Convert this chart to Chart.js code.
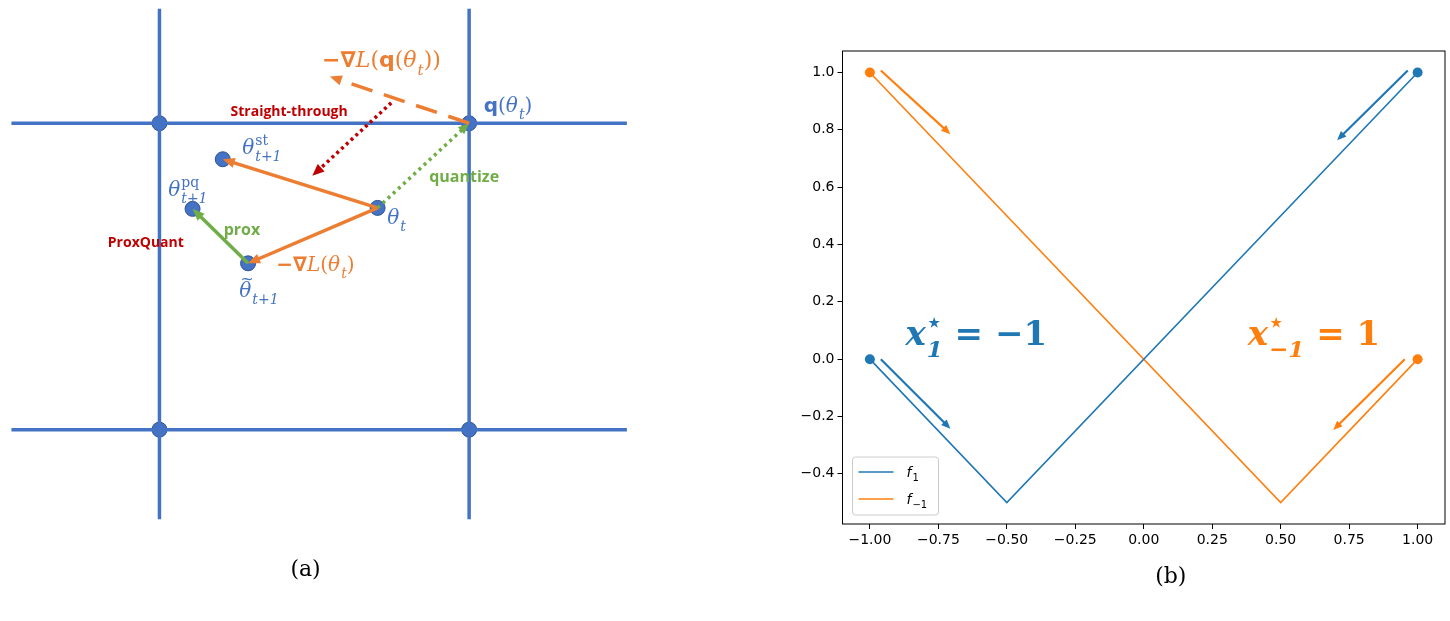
<!DOCTYPE html>
<html><head><meta charset="utf-8">
<script src="https://cdn.jsdelivr.net/npm/chart.js@4"></script>
<style>body{margin:0;width:1450px;height:621px;background:#fff;overflow:hidden;position:relative}
canvas{position:absolute;top:0}
</style></head><body>
<canvas id="a" style="left:0px" width="650" height="621"></canvas>
<canvas id="b" style="left:780px" width="670" height="621"></canvas>
<script>
// ---- Panel (b) data ----
const xTicks = [-1.0,-0.75,-0.5,-0.25,0,0.25,0.5,0.75,1.0];
const yTicks = [-0.4,-0.2,0,0.2,0.4,0.6,0.8,1.0];
const f1X = [-1,-0.5,1];
const f1Y = [0,-0.5,1];
const fm1X = [-1,0.5,1];
const fm1Y = [1,-0.5,0];
const startBlue = [[-1,0],[1,1]];
const startOrange = [[-1,1],[1,0]];
const arrowsBlue = [[0.964,1.007,0.706,0.764],[-0.96,0.0,-0.706,-0.243]];
const arrowsOrange = [[-0.96,1.007,-0.706,0.785],[0.953,0.0,0.692,-0.247]];

// ---- Panel (a) diagram data (diagram units) ----
const gridV = [155,473];
const gridH = [118,433];
const gridNodes = [[155,118],[473,118],[155,433],[473,433]];
const pts = {t:[379,205], st:[220,155], pq:[189,206], tl:[246,262], q:[473,118]};

const BLUE='#4472C4', OR='#ED7D31', GR='#70AD47', RED='#C00000';

function arrow(ctx,x1,y1,x2,y2,color,w,dash,head){
  const ang=Math.atan2(y2-y1,x2-x1);
  ctx.save();ctx.strokeStyle=color;ctx.fillStyle=color;ctx.lineWidth=w;ctx.setLineDash(dash||[]);
  ctx.beginPath();ctx.moveTo(x1,y1);ctx.lineTo(x2-Math.cos(ang)*head*0.6,y2-Math.sin(ang)*head*0.6);ctx.stroke();
  ctx.setLineDash([]);ctx.beginPath();ctx.moveTo(x2,y2);
  ctx.lineTo(x2-head*Math.cos(ang-0.4),y2-head*Math.sin(ang-0.4));
  ctx.lineTo(x2-head*Math.cos(ang+0.4),y2-head*Math.sin(ang+0.4));ctx.closePath();ctx.fill();ctx.restore();
}
function txt(ctx,s,x,y,font,color,align){ctx.save();ctx.font=font;ctx.fillStyle=color;ctx.textAlign=align||'left';ctx.textBaseline='alphabetic';ctx.fillText(s,x,y);const w=ctx.measureText(s).width;ctx.restore();return w;}
function msym(ctx,x,y,base,sub,sup,size,color,bold){
  const b=bold?'bold ':'';
  let w=txt(ctx,base,x,y,'italic '+b+size+'px "DejaVu Serif"',color);
  const fs=Math.round(size*0.68);
  if(sup) txt(ctx,sup,x+w+1,y-size*0.45,b+fs+'px "DejaVu Serif"',color);
  let ws=0;
  if(sub) ws=txt(ctx,sub,x+w+1,y+size*0.35,'italic '+b+fs+'px "DejaVu Serif"',color);
  let wp=0; if(sup){ctx.save();ctx.font=b+fs+'px "DejaVu Serif"';wp=ctx.measureText(sup).width;ctx.restore();}
  return w+1+Math.max(ws,wp);
}

const diagPlugin={id:'diag',afterDatasetsDraw(c){
  const ctx=c.ctx, X=v=>c.scales.x.getPixelForValue(v), Y=v=>c.scales.y.getPixelForValue(v);
  const P=k=>[X(pts[k][0]),Y(pts[k][1])];
  const t=P('t'),st=P('st'),pq=P('pq'),tl=P('tl'),q=P('q');
  arrow(ctx,t[0],t[1],st[0],st[1],OR,3.5,null,13);
  arrow(ctx,t[0],t[1],tl[0],tl[1],OR,3.5,null,13);
  arrow(ctx,tl[0],tl[1],pq[0],pq[1],GR,3.5,null,13);
  arrow(ctx,t[0],t[1],q[0],q[1],GR,3.5,[3,4],12);
  arrow(ctx,q[0],q[1],X(330),Y(70),OR,3.5,[22,12],13);
  arrow(ctx,X(393),Y(97),X(312),Y(172),RED,3.5,[3,3.5],13);
  let x=X(322),y=Y(60);
  x+=txt(ctx,'−∇',x,y,'bold 22px "DejaVu Sans"',OR);
  x+=txt(ctx,'L',x,y,'italic 22px "DejaVu Serif"',OR);
  x+=txt(ctx,'(',x,y,'22px "DejaVu Serif"',OR);
  x+=txt(ctx,'q',x,y,'bold 22px "DejaVu Sans"',OR);
  x+=txt(ctx,'(',x,y,'22px "DejaVu Serif"',OR);
  x+=msym(ctx,x,y,'θ','t',null,22,OR);
  txt(ctx,'))',x,y,'22px "DejaVu Serif"',OR);
  x=X(488);y=Y(106);
  x+=txt(ctx,'q',x,y,'bold 20px "DejaVu Sans"',BLUE);
  x+=txt(ctx,'(',x,y,'20px "DejaVu Serif"',BLUE);
  x+=msym(ctx,x,y,'θ','t',null,20,BLUE);
  txt(ctx,')',x,y,'20px "DejaVu Serif"',BLUE);
  txt(ctx,'Straight-through',X(228),Y(111),'bold 14px "Open Sans"',RED);
  txt(ctx,'quantize',X(432),Y(178),'bold 16px "Open Sans"',GR);
  txt(ctx,'prox',X(221),Y(233),'bold 16px "Open Sans"',GR);
  txt(ctx,'ProxQuant',X(102),Y(245),'bold 14px "Open Sans"',RED);
  x=X(275);y=Y(270);
  x+=txt(ctx,'−∇',x,y,'bold 20px "DejaVu Sans"',OR);
  x+=txt(ctx,'L',x,y,'italic 20px "DejaVu Serif"',OR);
  x+=txt(ctx,'(',x,y,'20px "DejaVu Serif"',OR);
  x+=msym(ctx,x,y,'θ','t',null,20,OR);
  txt(ctx,')',x,y,'20px "DejaVu Serif"',OR);
  msym(ctx,X(389),Y(222),'θ','t',null,20,BLUE);
  msym(ctx,X(240),Y(150),'θ','t+1','st',20,BLUE);
  msym(ctx,X(164),Y(193),'θ','t+1','pq',20,BLUE);
  msym(ctx,X(237),Y(297),'θ','t+1',null,20,BLUE);
  txt(ctx,'~',X(238),Y(283),'16px "DejaVu Serif"',BLUE);
  txt(ctx,'(a)',X(305),Y(583),'22px "DejaVu Serif"','#000','center');
}};

new Chart(document.getElementById('a'),{type:'scatter',
  data:{datasets:[
    ...gridV.map(v=>({data:[{x:v,y:0},{x:v,y:525}],showLine:true,borderColor:BLUE,borderWidth:3.5,pointRadius:0})),
    ...gridH.map(v=>({data:[{x:3,y:v},{x:635,y:v}],showLine:true,borderColor:BLUE,borderWidth:3.5,pointRadius:0})),
    {data:gridNodes.map(p=>({x:p[0],y:p[1]})),pointRadius:7.5,backgroundColor:BLUE,borderColor:'#2F528F',borderWidth:1},
    {data:['t','st','pq','tl'].map(k=>({x:pts[k][0],y:pts[k][1]})),pointRadius:7.5,backgroundColor:BLUE,borderColor:'#2F528F',borderWidth:1}
  ]},
  options:{responsive:false,animation:false,layout:{padding:0},plugins:{legend:{display:false},tooltip:{enabled:false}},
    scales:{x:{type:'linear',display:false,min:0,max:650},y:{type:'linear',display:false,min:0,max:621,reverse:true}}},
  plugins:[diagPlugin]});

// ---- Panel (b) ----
const C1='#1f77b4', C2='#ff7f0e';
const bPlugin={id:'bp',afterDatasetsDraw(c){
  const ctx=c.ctx,a=c.chartArea,X=v=>c.scales.x.getPixelForValue(v),Y=v=>c.scales.y.getPixelForValue(v);
  arrowsBlue.forEach(r=>arrow(ctx,X(r[0]),Y(r[1]),X(r[2]),Y(r[3]),C1,2.2,null,10));
  arrowsOrange.forEach(r=>arrow(ctx,X(r[0]),Y(r[1]),X(r[2]),Y(r[3]),C2,2.2,null,10));
  ctx.save();ctx.strokeStyle='#000';ctx.lineWidth=1;ctx.strokeRect(a.left,a.top,a.right-a.left,a.bottom-a.top);ctx.restore();
  let x=X(-0.87),y=Y(0.05);
  x+=msym(ctx,x,y,'x','1','⋆',34,C1,true);
  txt(ctx,' = −1',x,y,'bold 34px "DejaVu Serif"',C1);
  x=X(0.38);
  x+=msym(ctx,x,y,'x','−1','⋆',34,C2,true);
  txt(ctx,' = 1',x,y,'bold 34px "DejaVu Serif"',C2);
  const lx=a.left+10, ly=a.bottom-67;
  ctx.save();ctx.fillStyle='rgba(255,255,255,0.8)';ctx.strokeStyle='#ccc';ctx.lineWidth=1;
  ctx.beginPath();ctx.roundRect(lx,ly,86,58,3);ctx.fill();ctx.stroke();
  [[C1,'1'],[C2,'−1']].forEach((e,i)=>{
    const yy=ly+15+i*27;ctx.strokeStyle=e[0];ctx.lineWidth=1.6;ctx.beginPath();ctx.moveTo(lx+6,yy);ctx.lineTo(lx+41,yy);ctx.stroke();
    const w=txt(ctx,'f',lx+54,yy+5,'italic 14px "DejaVu Sans"','#000');
    txt(ctx,e[1],lx+54+w+1,yy+9,'10px "DejaVu Sans"','#000');
  });
  ctx.restore();
  txt(ctx,'(b)',X(0.0)+27,583,'22px "DejaVu Serif"','#000','center');
}};
const fmt=v=>{const s=(Math.abs(v)<1e-9?0:v);return (s<0?'−':'')+Math.abs(s).toFixed(2);};
new Chart(document.getElementById('b'),{type:'scatter',
  data:{datasets:[
    {label:'f1',data:f1X.map((v,i)=>({x:v,y:f1Y[i]})),showLine:true,borderColor:C1,borderWidth:1.6,pointRadius:0},
    {label:'f-1',data:fm1X.map((v,i)=>({x:v,y:fm1Y[i]})),showLine:true,borderColor:C2,borderWidth:1.6,pointRadius:0},
    {data:startBlue.map(p=>({x:p[0],y:p[1]})),pointRadius:5,backgroundColor:C1,borderWidth:0},
    {data:startOrange.map(p=>({x:p[0],y:p[1]})),pointRadius:5,backgroundColor:C2,borderWidth:0}
  ]},
  options:{responsive:false,animation:false,layout:{padding:{top:51,right:3,left:0,bottom:0}},
    plugins:{legend:{display:false},tooltip:{enabled:false}},
    scales:{
      x:{type:'linear',min:-1.1,max:1.1,afterBuildTicks:s=>{s.ticks=xTicks.map(v=>({value:v}));},afterFit:s=>{s.height=97;},
        grid:{drawOnChartArea:false,tickLength:5,color:'#000'},border:{display:false},
        ticks:{color:'#000',font:{family:'DejaVu Sans',size:14},padding:3,maxRotation:0,callback:v=>fmt(v)}},
      y:{type:'linear',min:-0.575,max:1.075,afterBuildTicks:s=>{s.ticks=yTicks.map(v=>({value:v}));},afterFit:s=>{s.width=62.5;},
        grid:{drawOnChartArea:false,tickLength:5,color:'#000'},border:{display:false},
        ticks:{color:'#000',font:{family:'DejaVu Sans',size:14},padding:3,callback:v=>{const s=Math.abs(v)<1e-9?0:v;return (s<0?'−':'')+Math.abs(s).toFixed(1);}}}
    }},
  plugins:[bPlugin]});
</script></body></html>
